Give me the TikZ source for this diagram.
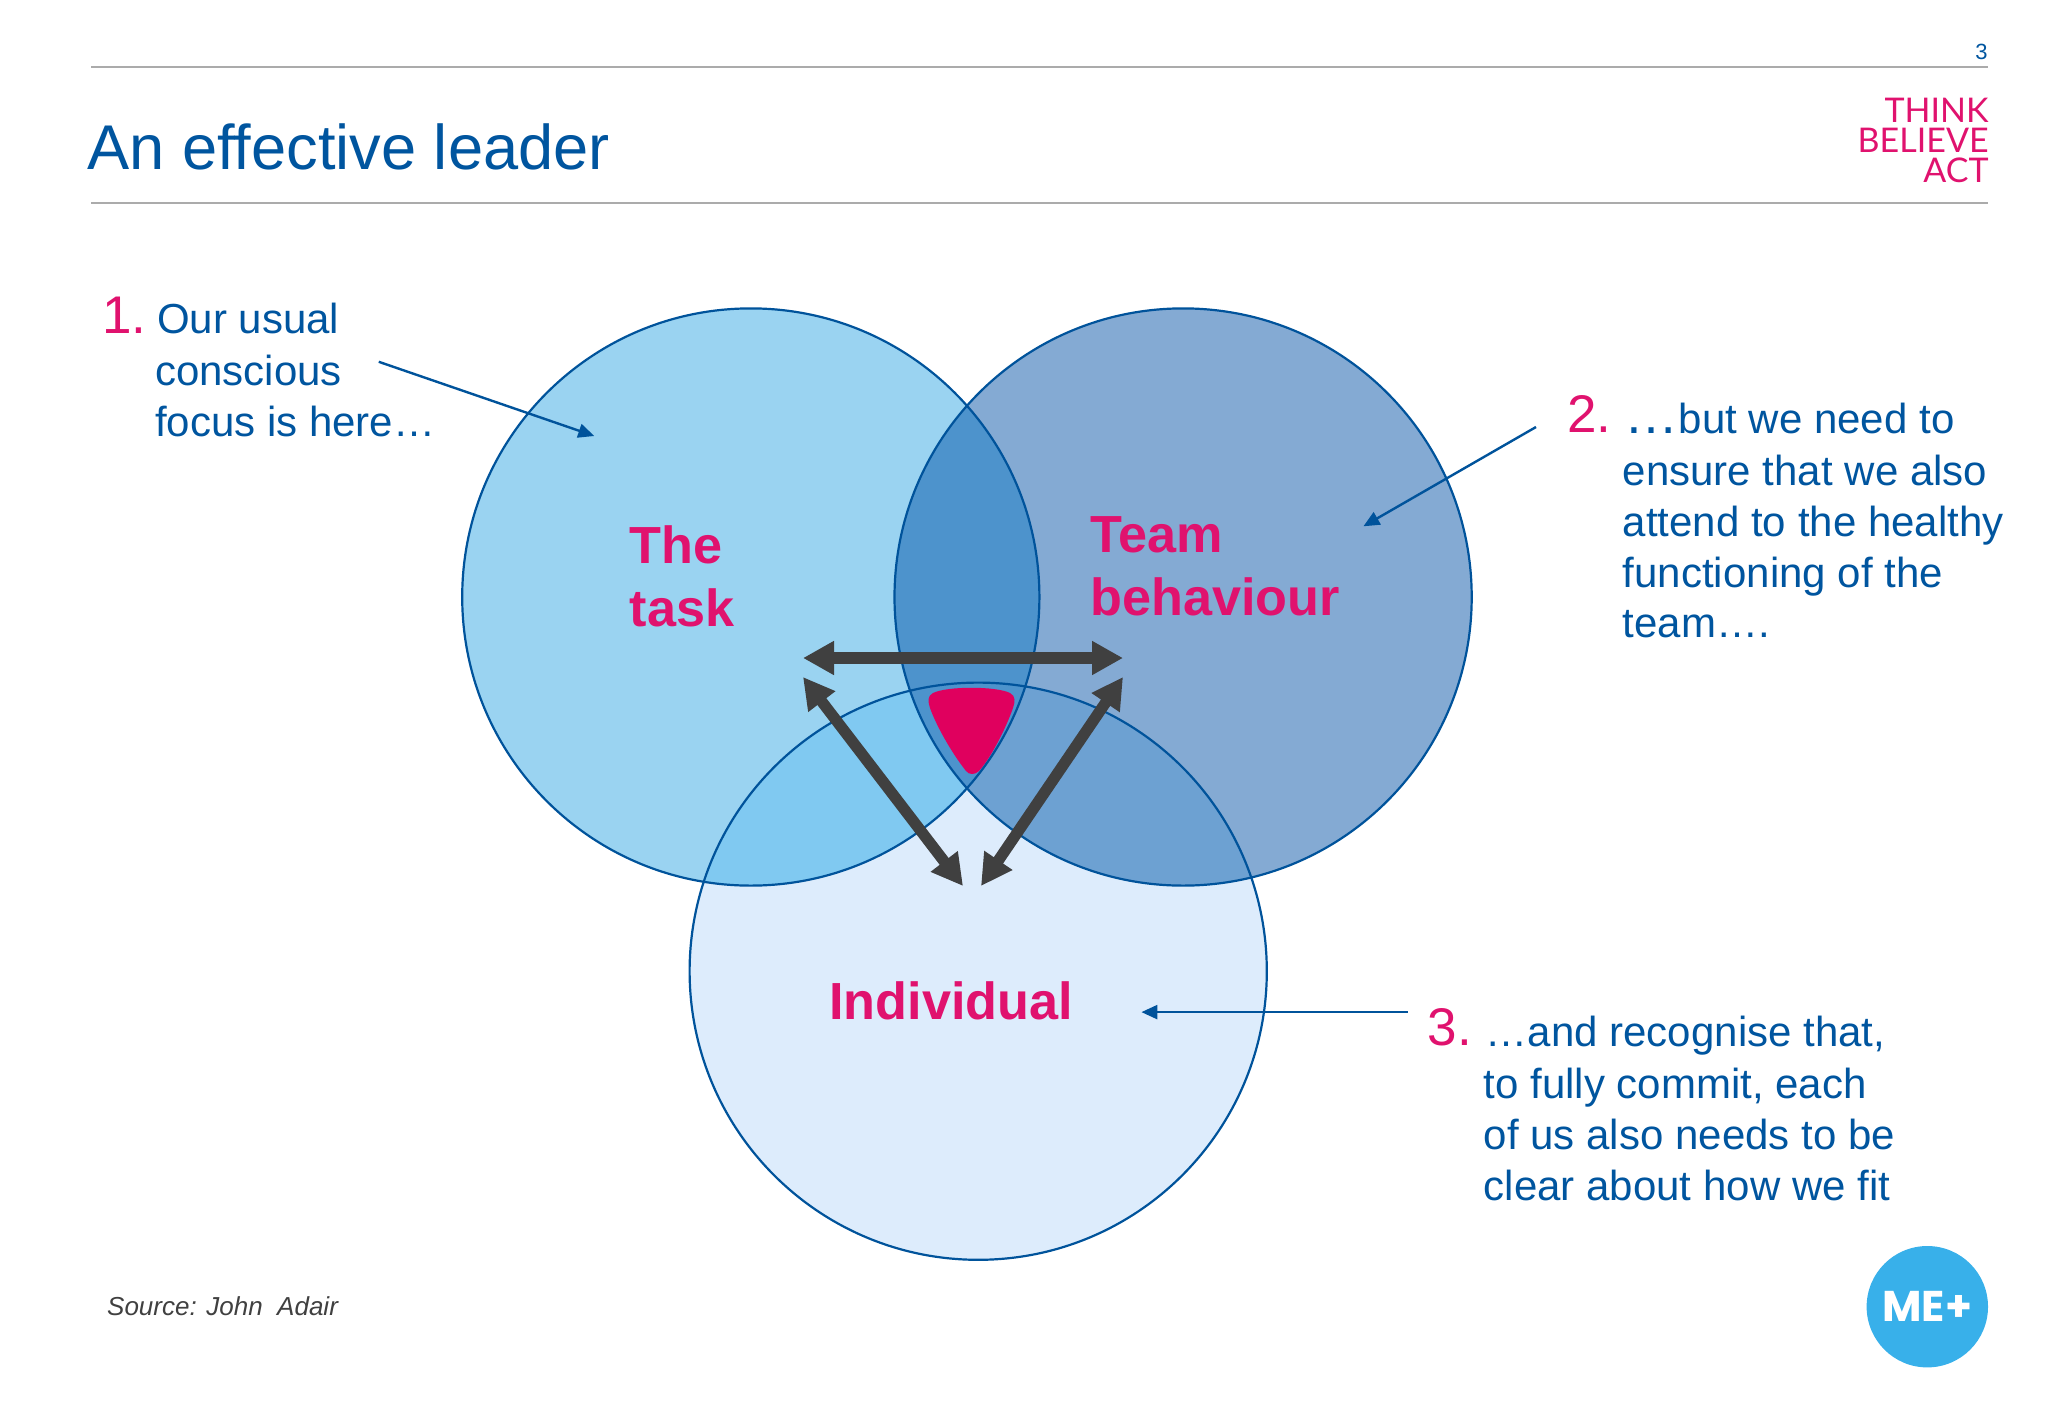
\documentclass[tikz,border=0pt]{standalone}
\usepackage{fontspec}
\setmainfont{Liberation Sans}
\newfontfamily\logofont{Lato}
\newfontfamily\badgefont{Poppins}
\usetikzlibrary{arrows.meta}

\definecolor{textblue}{HTML}{00559F}
\definecolor{linkblue}{HTML}{00539B}
\definecolor{hotpink}{HTML}{E0126E}
\definecolor{corepink}{HTML}{E0005E}
\definecolor{rulegrey}{HTML}{ABABAB}
\definecolor{arrowgrey}{HTML}{404040}
\definecolor{badgeblue}{HTML}{38B0EA}
\definecolor{taskfill}{HTML}{9AD3F1}
\definecolor{teamfill}{HTML}{84AAD3}
\definecolor{indivfill}{HTML}{DDECFC}
\definecolor{taskteam}{HTML}{4D93CC}
\definecolor{taskindiv}{HTML}{80C9F1}
\definecolor{teamindiv}{HTML}{6DA1D2}

\tikzset{
  venn/.style={circle,inner sep=0,outer sep=0,minimum size=288.6pt},
  rim/.style={draw=linkblue,line width=1.1pt},
  headrule/.style={draw=rulegrey,line width=1pt},
  pointer/.style={draw=linkblue,line width=1.2pt,-{Triangle[length=8pt,width=7pt]}},
  bigarrow/.style={draw=arrowgrey,line width=5.6pt,{Triangle[length=15.5pt,width=16pt]}-{Triangle[length=15.5pt,width=16pt]}},
  bodytext/.style={anchor=base west,inner sep=0,align=left,text=textblue,font=\fontsize{21}{25.3}\selectfont},
  stepnum/.style={anchor=base west,inner sep=0,text=hotpink,font=\fontsize{26.5}{30}\selectfont},
  venntext/.style={anchor=base west,inner sep=0,align=left,text=hotpink,font=\fontsize{26.1}{31.4}\selectfont\bfseries}
}

\begin{document}
\begin{tikzpicture}[x=0.5pt,y=-0.5pt]
  \useasboundingbox (0,0) rectangle (2048,1418);

  % header
  \coordinate (ruleTopL) at (91,67);
  \coordinate (ruleTopR) at (1988,67);
  \coordinate (ruleLowL) at (91,203);
  \coordinate (ruleLowR) at (1988,203);
  \draw[headrule] (ruleTopL) -- (ruleTopR);
  \draw[headrule] (ruleLowL) -- (ruleLowR);
  \node (title) [anchor=base west,inner sep=0,text=textblue,font=\fontsize{31.6}{36}\selectfont] at (87,169.4) {An effective leader};
  \node (page) [anchor=base east,inner sep=0,text=textblue,font=\fontsize{11}{12}\selectfont] at (1988,60) {3};
  \node (logo) [anchor=base east,inner sep=0,align=right,text=hotpink,font=\logofont\fontsize{17}{15}\selectfont] at (1989,182) {THINK\\BELIEVE\\ACT};

  % the three circles and their overlaps
  \node (task) [venn,fill=taskfill] at (750.8,597) {};
  \node (team) [venn,fill=teamfill] at (1183.1,597) {};
  \node (indiv) [venn,fill=indivfill] at (978.2,971.2) {};
  \begin{scope}
    \clip (team.center) circle [radius=144.3pt];
    \fill[teamindiv] (indiv.center) circle [radius=144.3pt];
  \end{scope}
  \begin{scope}
    \clip (task.center) circle [radius=144.3pt];
    \fill[taskindiv] (indiv.center) circle [radius=144.3pt];
    \fill[taskteam] (team.center) circle [radius=144.3pt];
  \end{scope}
  \draw[rim] (task.center) circle [radius=144.3pt];
  \draw[rim] (team.center) circle [radius=144.3pt];
  \draw[rim] (indiv.center) circle [radius=144.3pt];

  % centre shape
  \fill[corepink] (933,693) .. controls (947,686) and (996,686) .. (1010,693)
    .. controls (1016,696) and (1015,702) .. (1013,708)
    .. controls (1007,725) and (993,755) .. (979,771)
    .. controls (975,775) and (969,775) .. (966,771)
    .. controls (951,752) and (936,725) .. (930,708)
    .. controls (928,702) and (927,696) .. (933,693) -- cycle;

  % thick arrows
  \coordinate (leftTip) at (803,658);
  \coordinate (rightTip) at (1123,658);
  \coordinate (leftLow) at (803,677);
  \coordinate (rightLow) at (1123,677);
  \coordinate (bottomL) at (963,886);
  \coordinate (bottomR) at (981,886);
  \draw[bigarrow] (leftTip) -- (rightTip);
  \draw[bigarrow] (leftLow) -- (bottomL);
  \draw[bigarrow] (rightLow) -- (bottomR);

  % circle labels
  \node (taskname) [venntext] at (629.4,626.5) {The\\task};
  \node (teamname) [venntext] at (1090,615) {Team\\behaviour};
  \node (indivname) [venntext] at (829,1019.4) {Individual};

  % numbered remarks
  \node (numone) [stepnum] at (102,333) {1.};
  \node (noteone) [bodytext] at (154.7,436.5) {\kern1pt Our usual\\[1pt]conscious\\focus is here…};
  \node (numtwo) [stepnum] at (1567,432.7) {2.};
  \node (notetwo) [bodytext] at (1622.5,637.7) {\kern1pt{\fontsize{27}{25.3}\selectfont…}but we need to\\[0.7pt]ensure that we also\\attend to the healthy\\functioning of the\\team….};
  \node (numthree) [stepnum] at (1427.5,1045.5) {3.};
  \node (notethree) [bodytext] at (1483.5,1200) {\kern1pt…and recognise that,\\[0.7pt]to fully commit, each\\of us also needs to be\\clear about how we fit};

  % thin arrows
  \coordinate (oneFrom) at (378.8,361.8);
  \coordinate (oneTo) at (594.3,436);
  \coordinate (twoFrom) at (1536,427);
  \coordinate (twoTo) at (1363.4,526.3);
  \coordinate (threeFrom) at (1407.6,1012.1);
  \coordinate (threeTo) at (1141.4,1012.1);
  \draw[pointer] (oneFrom) -- (oneTo);
  \draw[pointer] (twoFrom) -- (twoTo);
  \draw[pointer] (threeFrom) -- (threeTo);

  % footer
  \node (source) [anchor=base west,inner sep=0,text=arrowgrey,font=\fontsize{13}{15}\selectfont\itshape] at (106.8,1315.8) {Source: John\ \ Adair};
  \node (badge) [circle,inner sep=0,minimum size=60.7pt,fill=badgeblue,text=white,font=\badgefont\fontsize{21.5}{24}\selectfont\bfseries] at (1927.3,1306.7) {ME+};
\end{tikzpicture}
\end{document}
